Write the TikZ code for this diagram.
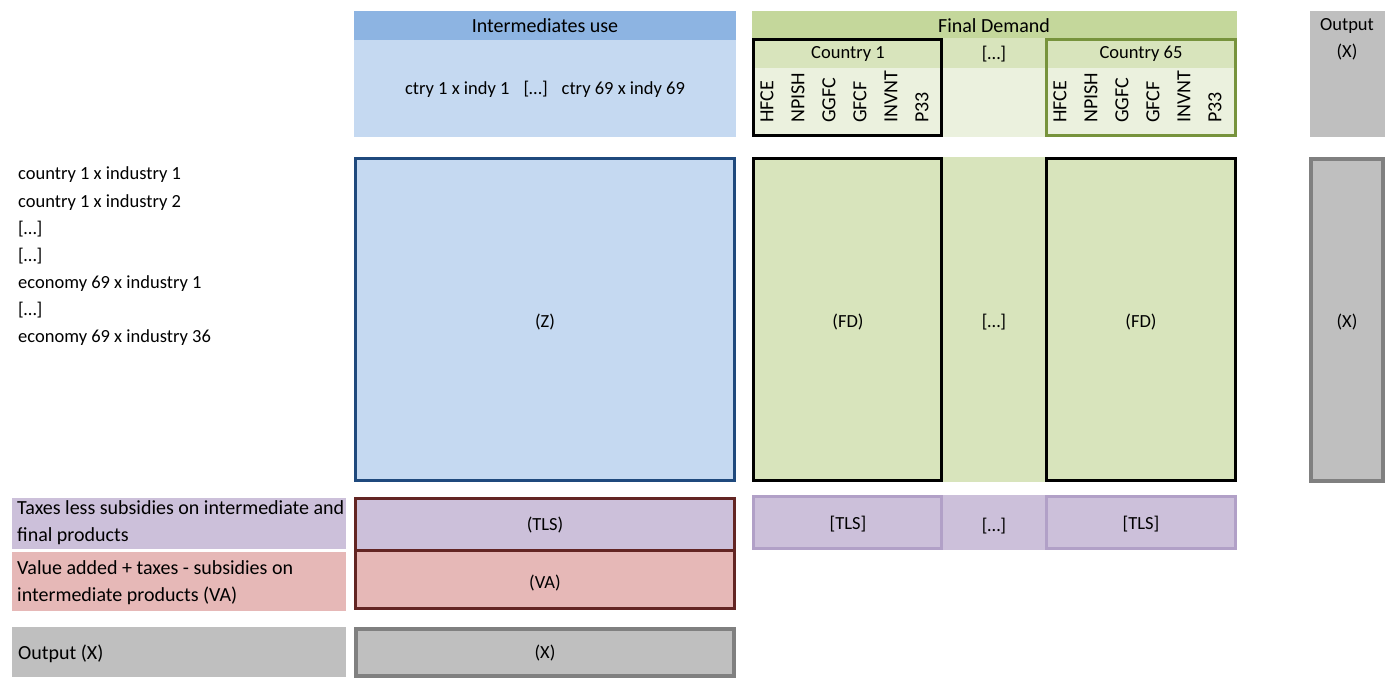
\documentclass[tikz,border=0pt]{standalone}
\usepackage{fontspec}
\setmainfont{Carlito}

\definecolor{interhead}{HTML}{8DB4E2}
\definecolor{interlight}{HTML}{C5D9F1}
\definecolor{fdhead}{HTML}{C4D79B}
\definecolor{fdmid}{HTML}{D8E4BC}
\definecolor{fdlight}{HTML}{EBF1DE}
\definecolor{ctrygreen}{HTML}{77933C}
\definecolor{zblue}{HTML}{1F497D}
\definecolor{tlsfill}{HTML}{CCC0DA}
\definecolor{tlsedge}{HTML}{B1A0C7}
\definecolor{vafill}{HTML}{E6B8B7}
\definecolor{vaedge}{HTML}{632523}
\definecolor{outfill}{HTML}{BFBFBF}
\definecolor{outedge}{HTML}{808080}

\begin{document}
\begin{tikzpicture}[x=1pt, y=-1pt,
    every node/.style={font=\fontsize{18.5}{27}\selectfont, inner sep=0pt},
    big text/.style={font=\fontsize{20}{27}\selectfont},
    thick edge/.style={line width=3pt},
    gray edge/.style={line width=4pt, draw=outedge, fill=outfill}]
    \useasboundingbox (0,0) rectangle (1400,690);

    % Intermediates header
    \fill[interhead] (354,11) rectangle (736,40);
    \node[big text] (interhd) at (545,26) {Intermediates use};
    \fill[interlight] (354,40) rectangle (736,137);
    \node (intercols) at (545,89) {ctry 1 x indy 1\hspace{14pt}[…]\hspace{14pt}ctry 69 x indy 69};

    % Final demand header
    \fill[fdhead] (752,11) rectangle (1237,38);
    \node[big text] (fdhd) at (994,26) {Final Demand};
    \fill[fdlight] (752,38) rectangle (1237,137);
    \fill[fdmid] (752,38) rectangle (1237,68);
    \draw[thick edge, black] (753.5,39.5) rectangle (941.5,135.5);
    \draw[thick edge, ctrygreen] (1046.5,39.5) rectangle (1235.5,135.5);
    \node (ctry1) at (848,54) {Country 1};
    \node (ctrydots) at (994,54) {[…]};
    \node (ctry65) at (1141,54) {Country 65};
    \foreach \s in {0,293}
        \foreach \x/\t in {767/HFCE, 798/NPISH, 829/GGFC, 860/GFCF, 891/INVNT, 922/P33}
            \node[big text, rotate=90, anchor=west] at (\x+\s,123) {\t};

    % Output header
    \fill[outfill] (1310,11) rectangle (1385,137);
    \node (outhd) at (1347,26) {Output};
    \node (outhdx) at (1347,52) {(X)};

    % Row labels
    \foreach \y/\t in {173/country 1 x industry 1, 201/country 1 x industry 2,
        228/[…], 255/[…], 282/economy 69 x industry 1, 309/[…],
        336/economy 69 x industry 36}
        \node[anchor=west] at (18,\y+1.5) {\t};

    % Z matrix
    \draw[thick edge, draw=zblue, fill=interlight] (355.5,158.5) rectangle (734.5,480.5);
    \node (z) at (545,322) {(Z)};

    % FD blocks
    \fill[fdmid] (752,157) rectangle (1237,482);
    \draw[thick edge, black] (753.5,158.5) rectangle (941.5,480.5);
    \draw[thick edge, black] (1046.5,158.5) rectangle (1235.5,480.5);
    \node (fd1) at (848,322) {(FD)};
    \node (fddots) at (994,322) {[…]};
    \node (fd65) at (1141,322) {(FD)};

    % Output column
    \draw[gray edge] (1311,159) rectangle (1383,481);
    \node (xcol) at (1347,322) {(X)};

    % TLS and VA rows
    \fill[tlsfill] (12,498) rectangle (346,549);
    \node[big text, anchor=west, align=left] (tlslab) at (17,523) {Taxes less subsidies on intermediate and\\final products};
    \fill[vafill] (12,552) rectangle (346,611);
    \node[big text, anchor=west, align=left] (valab) at (17,583) {Value added + taxes - subsidies on\\intermediate products (VA)};
    \draw[thick edge, draw=vaedge, fill=tlsfill] (355.5,498.5) rectangle (734.5,550);
    \draw[thick edge, draw=vaedge, fill=vafill] (355.5,550) rectangle (734.5,608.5);
    \node (tls) at (545,525) {(TLS)};
    \node (va) at (545,583) {(VA)};

    % TLS of final demand
    \fill[tlsfill] (752,495) rectangle (1237,550);
    \draw[thick edge, tlsedge] (753.5,496.5) rectangle (941.5,548.5);
    \draw[thick edge, tlsedge] (1046.5,496.5) rectangle (1235.5,548.5);
    \node (tls1) at (848,524) {[TLS]};
    \node (tlsdots) at (994,526) {[…]};
    \node (tls65) at (1141,524) {[TLS]};

    % Output row
    \fill[outfill] (12,627) rectangle (346,677);
    \node[big text, anchor=west] (outlab) at (18,654) {Output (X)};
    \draw[gray edge] (356,629) rectangle (734,676);
    \node (xrow) at (545,653) {(X)};
\end{tikzpicture}
\end{document}
